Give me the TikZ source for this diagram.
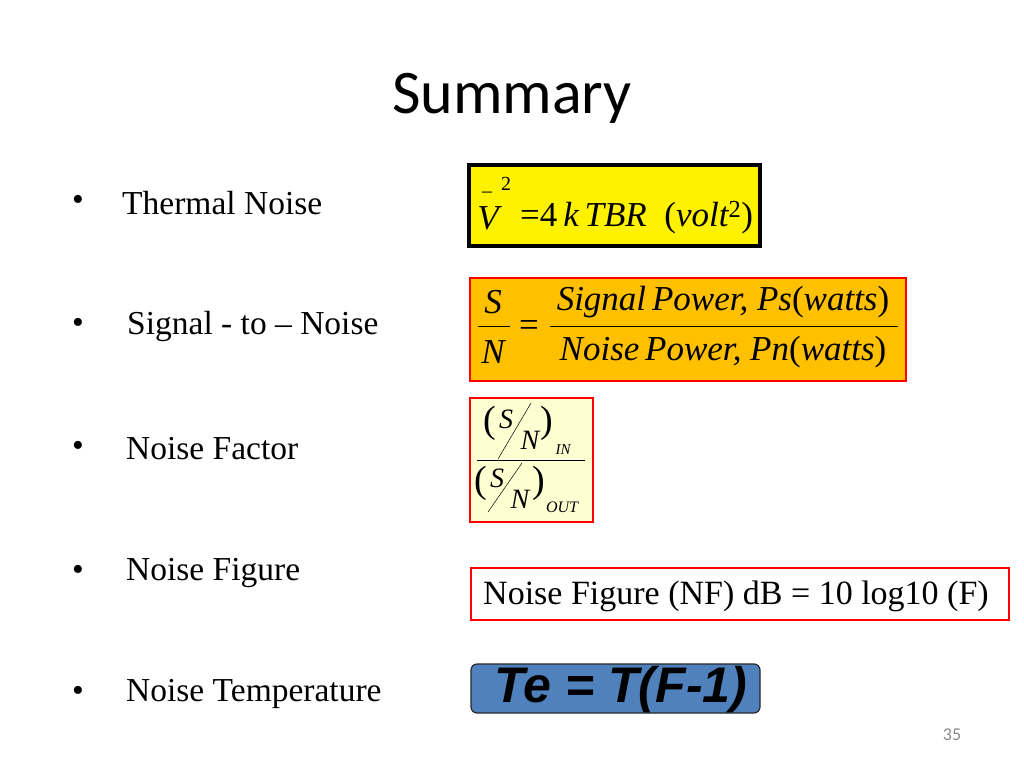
\documentclass[tikz,border=0pt]{standalone}
\usepackage{fontspec}
\setmainfont{Liberation Serif}
\newfontfamily\calib{Carlito}
\newfontfamily\arialf{Liberation Sans}
\begin{document}
\begin{tikzpicture}[x=1pt,y=-1pt,
  bul/.style={anchor=west,font=\fontsize{33.5}{36}\selectfont,inner sep=0},
  mt/.style={inner sep=0,font=\fontsize{35}{36}\selectfont\itshape},
  sm/.style={inner sep=0,font=\fontsize{17}{18}\selectfont\itshape}]
\useasboundingbox (0,0) rectangle (1024,768);
\node[font=\calib\fontsize{62}{66}\selectfont] (title) at (512,98) {Summary};
\foreach \y/\t/\x [count=\i] in {203/Thermal Noise/122,326/Signal - to -- Noise/127,449/Noise Factor/126,573/Noise Figure/126,694/Noise Temperature/126}{
  \node[bul] (d\i) at (72,\y) {\textbullet};
  \node[bul] (b\i) at (\x,\y) {\t};
}
% box1
\draw[line width=3.5pt,fill=yellow] (469,165) rectangle (760,246);
\node[mt] (v) at (488,218) {V};
\node[inner sep=0,font=\fontsize{20}{20}\selectfont] (bar) at (487,192) {\_};
\node[inner sep=0,font=\fontsize{20}{20}\selectfont] (two) at (506,184) {2};
\node[mt,anchor=west] (eq1) at (520,218) {\upshape=4\itshape\,k\,TBR\ \ \upshape(\itshape volt\textsuperscript{\upshape 2}\upshape)};
% box2
\draw[line width=2.5pt,red,fill={rgb,255:red,255;green,192;blue,0}] (470,278) rectangle (906,381);
\node[mt] (s) at (493,302) {S};
\node[mt] (n) at (493,352) {N};
\draw[line width=1pt] (478,326) -- (510,326);
\node[mt] (eq2) at (529,328) {\upshape=};
\draw[line width=1pt] (550,326) -- (898,326);
\node[mt] (num) at (723,302) {Signal\,Power, Ps\upshape(\itshape watts\upshape)};
\node[mt] (den) at (723,352) {Noise\,Power, Pn\upshape(\itshape watts\upshape)};
% box3
\draw[line width=2.5pt,red,fill={rgb,255:red,255;green,255;blue,210}] (470,398) rectangle (593,522);
\node[inner sep=0,font=\fontsize{38}{38}\selectfont] (p1) at (490,423) {(};
\node[mt,font=\fontsize{28}{28}\selectfont\itshape] (s1) at (506,419) {S};
\draw[line width=0.5pt] (498,459) -- (531,403);
\node[mt,font=\fontsize{28}{28}\selectfont\itshape] (n1) at (530,440) {N};
\node[inner sep=0,font=\fontsize{38}{38}\selectfont] (p2) at (547,423) {)};
\node[sm,font=\fontsize{15}{15}\selectfont\itshape] (in) at (563,450) {IN};
\draw[line width=1pt] (477,460) -- (585,460);
\node[inner sep=0,font=\fontsize{38}{38}\selectfont] (p3) at (481,483) {(};
\node[mt,font=\fontsize{28}{28}\selectfont\itshape] (s2) at (497,478) {S};
\draw[line width=0.5pt] (488,512) -- (522,463);
\node[mt,font=\fontsize{28}{28}\selectfont\itshape] (n2) at (520,499) {N};
\node[inner sep=0,font=\fontsize{38}{38}\selectfont] (p4) at (539,483) {)};
\node[sm,font=\fontsize{16}{16}\selectfont\itshape] (out) at (562,507) {OUT};
% box4
\draw[line width=2.5pt,red,fill=white] (471,568) rectangle (1009,620);
\node[inner sep=0,anchor=west,font=\fontsize{34}{36}\selectfont] (nf) at (483,596) {Noise Figure (NF) dB = 10 log10 (F)};
% box5
\draw[line width=1.2pt,draw={rgb,255:red,40;green,40;blue,40},fill={rgb,255:red,79;green,129;blue,189},rounded corners=6pt] (471,664) rectangle (760,713);
\node[inner sep=0,font=\arialf\bfseries\itshape\fontsize{50}{50}\selectfont] (te) at (621,690) {Te = T(F-1)};
\node[font=\calib\fontsize{18}{18}\selectfont,text={rgb,255:red,137;green,137;blue,137}] (pg) at (952,735) {35};
\end{tikzpicture}
\end{document}
